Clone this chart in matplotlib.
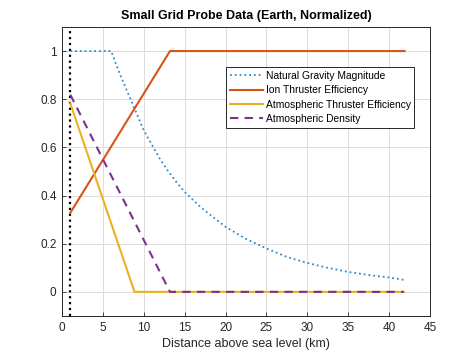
import numpy as np
import matplotlib.pyplot as plt

plt.rcParams['font.family'] = ['Liberation Sans', 'DejaVu Sans']

# gravity curve
grav_x = [1, 6, 7, 8, 9, 10, 11, 12, 13, 14, 15, 17, 20, 22.5, 25, 27.5, 30, 32.5, 35, 37.5, 40, 41.8]
grav_y = [1, 1, 0.91, 0.83, 0.75, 0.67, 0.61, 0.55, 0.50, 0.455, 0.415, 0.35, 0.27, 0.22, 0.18, 0.145, 0.12, 0.10, 0.083, 0.07, 0.06, 0.05]

ion_x = [1, 13.2, 41.9]
ion_y = [0.328, 1, 1]

atm_x = [1, 8.86, 41.8]
atm_y = [0.783, 0, 0]

dens_x = [1, 13.2, 41.8]
dens_y = [0.819, 0, 0]

probe_x = 1

fig = plt.figure(figsize=(4.74, 3.55), dpi=100)
ax = fig.add_axes([0.131, 0.110, 0.776, 0.814])

ax.axvline(probe_x, color='black', linestyle=':', linewidth=1.6)
ax.plot(grav_x, grav_y, color='#2a8ccc', linestyle=':', linewidth=1.3, label='Natural Gravity Magnitude')
ax.plot(ion_x, ion_y, color='#D95319', linewidth=1.5, label='Ion Thruster Efficiency')
ax.plot(atm_x, atm_y, color='#EDB120', linewidth=1.5, label='Atmospheric Thruster Efficiency')
ax.plot(dens_x, dens_y, color='#7E2F8E', linestyle=(0, (4, 3)), linewidth=1.5, label='Atmospheric Density')

ax.set_xlim(0, 45)
ax.set_ylim(-0.1, 1.1)
ax.set_xticks(np.arange(0, 46, 5))
ax.set_yticks([0, 0.2, 0.4, 0.6, 0.8, 1])
ax.set_yticklabels(['0', '0.2', '0.4', '0.6', '0.8', '1'])
ax.grid(True, color='#dcdcdc', linewidth=0.7)
ax.set_axisbelow(True)
ax.tick_params(direction='in', labelsize=8.5, colors='#262626', length=3, width=0.6, pad=4)
for s in ax.spines.values():
    s.set_color('#262626')
    s.set_linewidth(0.7)

ax.set_xlabel('Distance above sea level (km)', fontsize=9, color='#262626', labelpad=3)
ax.set_title('Small Grid Probe Data (Earth, Normalized)', fontsize=9, fontweight='bold', pad=6)

leg = ax.legend(loc='upper right', bbox_to_anchor=(0.958, 0.86), fontsize=7.4, frameon=True,
                fancybox=False, edgecolor='#262626', framealpha=1, borderpad=0.35,
                labelspacing=0.42, handlelength=3.2, handletextpad=0.3, borderaxespad=0)
leg.get_frame().set_linewidth(0.7)

fig.savefig('out.png', dpi=100)
